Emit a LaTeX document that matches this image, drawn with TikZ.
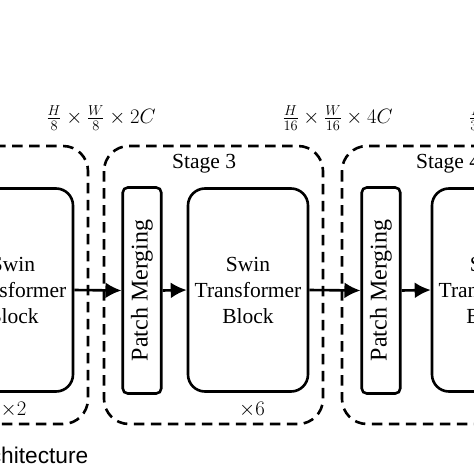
\documentclass[tikz,border=0pt]{standalone}
\usepackage{fontspec}
\setmainfont{Liberation Serif}
\newfontfamily\capfont{Liberation Sans}
\usetikzlibrary{arrows.meta}
\begin{document}
\begin{tikzpicture}[x=1pt,y=-1pt,
  every node/.style={font=\fontsize{21.5}{26}\selectfont, inner sep=0pt},
  stagebox/.style={line width=2.6pt, dash pattern=on 10.5pt off 6.5pt, rounded corners=25pt},
  swin/.style={draw, line width=2.6pt, rounded corners=17pt, minimum width=120pt, minimum height=203pt, align=center},
  pm/.style={draw, line width=2.6pt, rounded corners=5pt, minimum width=206pt, minimum height=38.5pt, rotate=90, font=\fontsize{24}{28}\selectfont},
  arr/.style={line width=2.6pt, -{Latex[length=16pt,width=16pt]}}
]
\useasboundingbox (0,0) rectangle (474,474);
\clip (0,0) rectangle (474,474);
% stage boxes
\draw[stagebox] (-300,146) rectangle (88,424);
\draw[stagebox] (104,146) rectangle (323,424);
\draw[stagebox] (342,146) rectangle (800,424);
% labels
\node[anchor=base west] (st3) at (172,168) {Stage 3};
\node[anchor=base west] (st4) at (416,168) {Stage 4};
\node[anchor=base, font=\fontsize{22.5}{26}\selectfont] (d2) at (101,123.5) {$\frac{H}{8}\times\frac{W}{8}\times 2C$};
\node[anchor=base, font=\fontsize{22.5}{26}\selectfont] (d3) at (337.5,123.5) {$\frac{H}{16}\times\frac{W}{16}\times 4C$};
\node[anchor=base west, font=\fontsize{22.5}{26}\selectfont] (d4) at (469,123.5) {$\frac{H}{32}\times\frac{W}{32}\times 8C$};
% blocks
\node[swin] (s2) at (13,290) {Swin\\Transformer\\Block};
\node[pm] (p3) at (142,290.5) {Patch Merging};
\node[swin] (s3) at (248,290) {Swin\\Transformer\\Block};
\node[pm] (p4) at (381,290.5) {Patch Merging};
\node[swin] (s4) at (492,290) {Swin\\Transformer\\Block};
% arrows
\draw[arr] (s2.east) -- (p3.north);
\draw[arr] (p3.south) -- (s3.west);
\draw[arr] (s3.east) -- (p4.north);
\draw[arr] (p4.south) -- (s4.west);
% repeat counts
\node[anchor=base] (r2) at (13.5,415) {$\times 2$};
\node[anchor=base] (r3) at (252,415) {$\times 6$};
% caption
\node[anchor=base east, font=\capfont\fontsize{22.7}{26}\selectfont] (cap) at (88.5,463) {(a) Architecture};
\end{tikzpicture}
\end{document}
